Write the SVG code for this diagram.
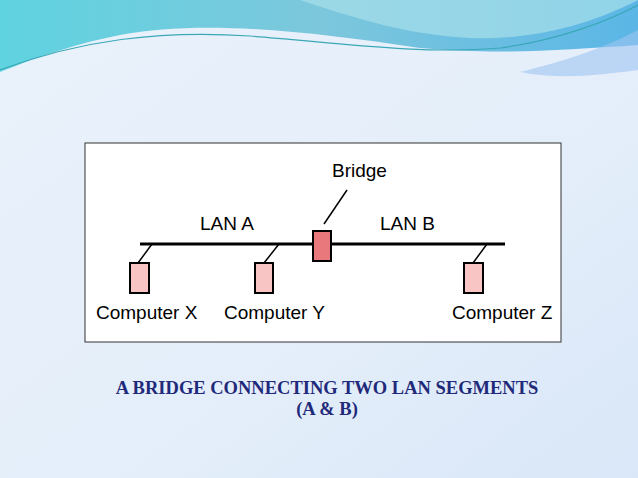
<svg xmlns="http://www.w3.org/2000/svg" width="638" height="478" viewBox="0 0 638 478">
<defs>
<linearGradient id="bg" x1="0" y1="0" x2="1" y2="1"><stop offset="0" stop-color="#eaf2fb"/><stop offset="0.6" stop-color="#e4eefa"/><stop offset="1" stop-color="#d9e7f8"/></linearGradient>
<linearGradient id="wave" x1="0" y1="0" x2="1" y2="0"><stop offset="0" stop-color="#5fd3e0"/><stop offset="0.5" stop-color="#7cc7dc"/><stop offset="1" stop-color="#5bb6e6"/></linearGradient>
<style>
.t{font-family:"Liberation Sans",Arial,sans-serif;font-size:19px;fill:#000}
.c{fill:#f8c4c4;stroke:#000;stroke-width:2}
.l{stroke:#000;stroke-width:1.5;fill:none}
.cap{font-family:"Liberation Serif","Times New Roman",serif;font-size:18.5px;font-weight:bold;fill:#1f2a7a;text-anchor:middle}
</style>
</defs>
<rect width="638" height="478" fill="url(#bg)"/>
<path d="M0 0 H638 V45 C560 50 500 55 420 48 C300 30 200 20 120 35 C70 45 30 60 0 72 Z" fill="url(#wave)"/>
<path d="M300 0 C360 20 410 35 470 38 C520 40 580 30 638 0 Z" fill="#a8e0ea" opacity="0.7"/>
<path d="M0 70 C80 40 160 30 250 36 C330 42 420 55 500 48 C560 40 610 20 638 5" fill="none" stroke="#3aa8b8" stroke-width="1.2"/>
<path d="M638 30 L638 70 C600 75 560 80 520 72 C570 60 610 45 638 30 Z" fill="#9ec4f2" opacity="0.6"/>
<rect x="85" y="143" width="476" height="199" fill="#fff" stroke="#333" stroke-width="1"/>
<g id="connectors">
<line x1="140" y1="244" x2="505" y2="244" stroke="#000" stroke-width="3"/>
<line class="l" x1="152" y1="244" x2="138" y2="263"/>
<line class="l" x1="279" y1="244" x2="264" y2="263"/>
<line class="l" x1="487" y1="244" x2="473" y2="263"/>
<line class="l" x1="347" y1="190" x2="324" y2="224"/>
</g>
<g id="bridge"><rect x="313" y="231" width="18" height="30" fill="#e8787c" stroke="#000" stroke-width="2"/><text class="t" x="332" y="177">Bridge</text></g>
<g id="lanA"><text class="t" x="200" y="230">LAN A</text></g>
<g id="lanB"><text class="t" x="380" y="230">LAN B</text></g>
<g id="computerX"><rect class="c" x="130" y="263" width="19" height="30"/><text class="t" x="96" y="319">Computer X</text></g>
<g id="computerY"><rect class="c" x="255" y="263" width="18" height="30"/><text class="t" x="224" y="319">Computer Y</text></g>
<g id="computerZ"><rect class="c" x="464" y="263" width="19" height="30"/><text class="t" x="452" y="319">Computer Z</text></g>
<text class="cap" x="327" y="394">A BRIDGE CONNECTING TWO LAN SEGMENTS</text>
<text class="cap" x="327" y="415">(A &amp; B)</text>
</svg>
